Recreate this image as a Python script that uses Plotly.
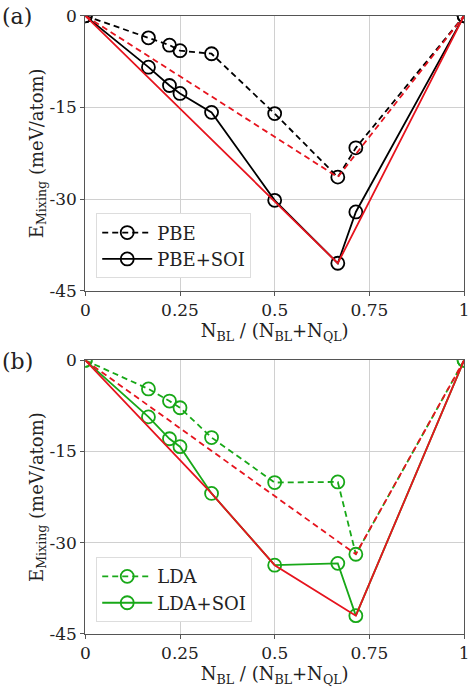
import plotly.graph_objects as go
from plotly.subplots import make_subplots

# composition N_BL / (N_BL + N_QL)
x_comp = [0, 1/6, 2/9, 1/4, 1/3, 1/2, 2/3, 5/7, 1]

# mixing energies (meV/atom)
e_pbe = [0, -3.6, -4.8, -5.7, -6.2, -16.0, -26.4, -21.6, 0]
e_pbe_soi = [0, -8.4, -11.4, -12.7, -15.8, -30.2, -40.5, -32.1, 0]
e_lda = [0, -4.7, -6.7, -7.8, -12.7, -20.1, -20.0, -31.9, 0]
e_lda_soi = [0, -9.3, -12.9, -14.2, -21.9, -33.7, -33.4, -42.0, 0]

# convex hulls (red)
hull_pbe_x = [0, 2/3, 1]
hull_pbe_y = [0, -26.4, 0]
hull_pbe_soi_x = [0, 2/3, 1]
hull_pbe_soi_y = [0, -40.5, 0]
hull_lda_x = [0, 5/7, 1]
hull_lda_y = [0, -31.9, 0]
hull_lda_soi_x = [0, 1/3, 1/2, 5/7, 1]
hull_lda_soi_y = [0, -21.9, -33.7, -42.0, 0]

xticks = [0, 0.25, 0.5, 0.75, 1]
xticklabels = ["0", "0.25", "0.5", "0.75", "1"]
yticks = [0, -15, -30, -45]
yticklabels = ["0", "-15", "-30", "-45"]

RED = "#e6141e"
GREEN = "#18a818"
FONT = "DejaVu Serif"
DASH = "6px,4px"

fig = make_subplots(rows=2, cols=1)

def add_series(x, y, color, dash, name, row, legend):
    fig.add_trace(go.Scatter(x=x, y=y, mode="lines+markers", name=name,
                             line=dict(color=color, width=1.8, dash=dash),
                             marker=dict(symbol="circle-open", size=13, color=color,
                                         line=dict(width=1.8, color=color)),
                             legend=legend), row=row, col=1)

def add_hull(x, y, dash, row):
    fig.add_trace(go.Scatter(x=x, y=y, mode="lines", showlegend=False,
                             line=dict(color=RED, width=1.8, dash=dash)), row=row, col=1)

add_series(x_comp, e_pbe, "black", DASH, "PBE", 1, "legend")
add_series(x_comp, e_pbe_soi, "black", "solid", "PBE+SOI", 1, "legend")
add_hull(hull_pbe_x, hull_pbe_y, DASH, 1)
add_hull(hull_pbe_soi_x, hull_pbe_soi_y, "solid", 1)

add_series(x_comp, e_lda, GREEN, DASH, "LDA", 2, "legend2")
add_series(x_comp, e_lda_soi, GREEN, "solid", "LDA+SOI", 2, "legend2")
add_hull(hull_lda_x, hull_lda_y, DASH, 2)
add_hull(hull_lda_soi_x, hull_lda_soi_y, "solid", 2)

xtitle = "N<sub>BL</sub> / (N<sub>BL</sub>+N<sub>QL</sub>)"
ytitle = "E<sub>Mixing</sub> (meV/atom)"

axis_common = dict(showgrid=True, gridcolor="#d0d0d0", gridwidth=1,
                   showline=True, linecolor="#555555", linewidth=1.2, mirror=True,
                   ticks="outside", ticklen=4, tickcolor="#555555", automargin=False,
                   zeroline=False, tickfont=dict(size=17, color="#222222"))

fig.update_xaxes(range=[0, 1], tickvals=xticks, ticktext=xticklabels,
                 domain=[0.18, 0.979], **axis_common)
fig.update_yaxes(range=[-45, 0], tickvals=yticks, ticktext=yticklabels, **axis_common)

fig.update_xaxes(title=dict(text=xtitle, font=dict(size=18, color="#222222"), standoff=2), row=1, col=1)
fig.update_xaxes(title=dict(text=xtitle, font=dict(size=18, color="#222222"), standoff=2), row=2, col=1)
fig.update_yaxes(title=dict(text=ytitle, font=dict(size=18, color="#222222"), standoff=0),
                 domain=[0.578, 0.977], row=1, col=1)
fig.update_yaxes(title=dict(text=ytitle, font=dict(size=18, color="#222222"), standoff=0),
                 domain=[0.080, 0.477], row=2, col=1)

legend_common = dict(bgcolor="white", bordercolor="#dddddd", borderwidth=1,
                     font=dict(size=18, color="#222222"), xanchor="left", yanchor="bottom",
                     itemwidth=50, tracegroupgap=0)
fig.update_layout(
    width=474, height=689,
    margin=dict(l=0, r=0, t=0, b=0),
    paper_bgcolor="white", plot_bgcolor="white",
    font=dict(family=FONT, color="#222222"),
    legend=dict(x=0.203, y=0.596, **legend_common),
    legend2=dict(x=0.203, y=0.097, **legend_common),
)

fig.add_annotation(text="(a)", x=0.0, y=0.997, xref="paper", yref="paper",
                   xanchor="left", yanchor="top", showarrow=False,
                   font=dict(size=22, color="#222222"))
fig.add_annotation(text="(b)", x=0.0, y=0.497, xref="paper", yref="paper",
                   xanchor="left", yanchor="top", showarrow=False,
                   font=dict(size=22, color="#222222"))

# drop the default page margin so the figure fills the window exactly
fig.write_html("out.html", config={"displayModeBar": False},
               post_script="document.body.style.margin='0';document.body.style.overflow='hidden';")
